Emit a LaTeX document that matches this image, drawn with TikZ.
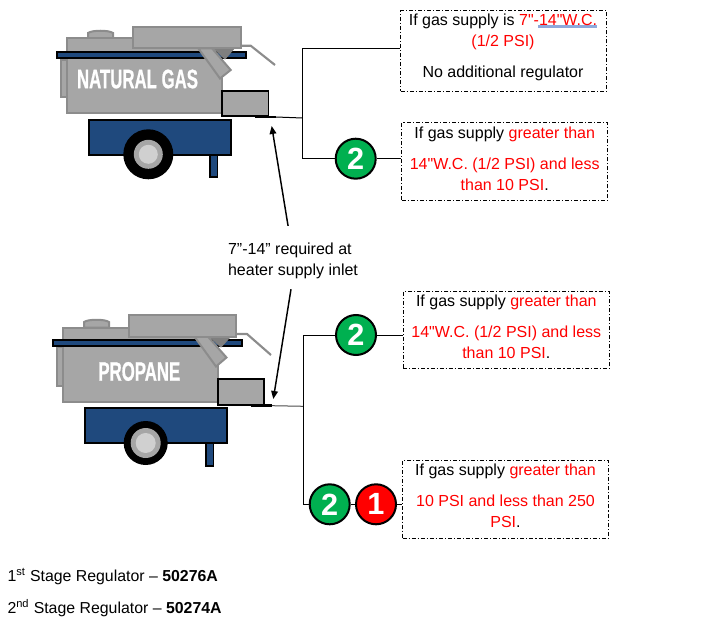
\documentclass[tikz,border=0pt]{standalone}
\usepackage{fontspec}
\setmainfont{Liberation Sans}
\newfontfamily\rawfont{Liberation Sans}
\newfontfamily\fuelfont{Liberation Sans}[BoldFeatures={FakeBold=1}]
\usetikzlibrary{arrows.meta}

\definecolor{bodygray}{RGB}{166,166,166}
\definecolor{edgegray}{RGB}{140,140,140}
\definecolor{chutegray}{RGB}{127,127,127}
\definecolor{hubgray}{RGB}{208,208,208}
\definecolor{trailerblue}{RGB}{31,73,125}
\definecolor{stagegreen}{RGB}{0,176,80}
\definecolor{markblue}{RGB}{142,169,219}

\tikzset{every picture/.style={line width=0.75pt}}
\tikzset{
  tankpart/.style={draw=edgegray,fill=bodygray,line width=1.5pt},
  boxpart/.style={draw=black,fill=bodygray,line width=1.2pt},
  bluepart/.style={draw=black,fill=trailerblue,line width=1.2pt},
  inletbar/.style={fill=black,inner sep=0pt,minimum width=15.5pt,minimum height=2.2pt},
  infobox/.style={draw=black,dash pattern=on 3pt off 1.5pt on 0.8pt off 1.5pt,minimum width=154.5pt,inner sep=0pt},
  infotext/.style={font=\fontsize{12}{15.75}\selectfont,align=center,inner sep=0pt},
  fueltext/.style={font=\fontsize{20}{22}\fuelfont\bfseries,text=white,inner sep=0pt},
  stage/.style={circle,draw=black,line width=1.5pt,minimum size=30pt,inner sep=0pt,text=white,font=\fontsize{23}{25}\selectfont\bfseries},
  stagetwo/.style={stage,fill=stagegreen},
  stageone/.style={stage,fill=red},
  plaintext/.style={font=\fontsize{11.9}{15.75}\selectfont,anchor=west,inner sep=0pt},
}
\newcommand{\redtext}[1]{\textcolor{red}{#1}}
\newcommand{\inchmark}{{\rawfont"}}

\begin{document}
\begin{tikzpicture}[x=0.75pt,y=0.75pt,yscale=-1,xscale=1]
\useasboundingbox (0,0) rectangle (725,617);

% Natural gas heater
\draw [tankpart] (60.7,60) rectangle (66.7,97);
\draw [tankpart] (88,38.3) -- (88,33) .. controls (92,30) and (109,30) .. (113,33) -- (113,38.3) -- cycle;
\draw [tankpart] (66.7,38.3) rectangle (221.7,113.3);
\draw [bluepart] (56.7,52) rectangle (246,58);
\draw [draw=edgegray,line width=1.6pt] (240.7,45.7) -- (250.7,45.7) -- (275,65);
\draw [fill=chutegray,draw=chutegray] (213,47.5) -- (234,48.5) -- (225,59) -- cycle;
\draw [tankpart] (198.3,48.3) -- (212,48.3) -- (230.7,70) -- (220,78.5) -- cycle;
\draw [tankpart] (133.3,26.7) rectangle (240.7,48.3);
\draw [boxpart] (221.7,91) rectangle (268.3,116);
\draw [bluepart] (89,120) rectangle (231,155);
\draw [bluepart] (210,155) rectangle (217.3,177);
\fill [black] (148.3,154.3) circle [radius=25];
\fill [bodygray] (148.3,154.3) circle [radius=14.5];
\fill [hubgray] (148.3,154.3) circle [radius=9.5];
% Text Node
\node [fueltext] (gasname) at (137.5,79) {\scalebox{0.63}[1]{NATURAL GAS}};
\node [inletbar] (gasbar) at (265.3,117) {};

% Propane heater
\draw [tankpart] (56.7,347) rectangle (62.7,386);
\draw [tankpart] (84,327.7) -- (84,322) .. controls (88,319) and (105,319) .. (109,322) -- (109,327.7) -- cycle;
\draw [tankpart] (62.7,327.7) rectangle (217.7,402.3);
\draw [bluepart] (52.7,340) rectangle (242,346);
\draw [draw=edgegray,line width=1.6pt] (236,334) -- (247,334) -- (271,355);
\draw [fill=chutegray,draw=chutegray] (209,336) -- (230,337) -- (221,347) -- cycle;
\draw [tankpart] (194.5,336.7) -- (208,336.7) -- (226.5,357.5) -- (216,366.5) -- cycle;
\draw [tankpart] (129.3,315) rectangle (236,336.7);
\draw [boxpart] (217.7,379) rectangle (264,405);
\draw [bluepart] (85,407.7) rectangle (227,442.7);
\draw [bluepart] (206,442.7) rectangle (213.3,466);
\fill [black] (145.7,443) circle [radius=22];
\fill [bodygray] (145.7,443) circle [radius=15];
\fill [hubgray] (145.7,443) circle [radius=10];
% Text Node
\node [fueltext] (propname) at (139.3,371.5) {\scalebox{0.63}[1]{PROPANE}};
\node [inletbar] (propbar) at (261.2,405.7) {};

% Text Node
\node [infobox,minimum height=60.4pt] (boxa) at (503.7,51) {};
\fill [markblue] (538,25) rectangle (597,28.3);
\node [infotext] (texta) at (503,47) {If gas supply is \redtext{7\inchmark-14\inchmark W.C.}\\\redtext{(1/2 PSI)}\\[7.5pt]No additional regulator};
% Text Node
\node [infobox,minimum height=58pt] (boxb) at (504.7,161.4) {};
\node [infotext] (textb) at (504.7,158.8) {If gas supply \redtext{greater than}\\[7.5pt]\redtext{14\inchmark W.C. (1/2 PSI) and less}\\\redtext{than 10 PSI}.};
% Text Node
\node [infobox,minimum height=58pt] (boxc) at (506.3,330.3) {};
\node [infotext] (textc) at (506.3,327) {If gas supply \redtext{greater than}\\[7.5pt]\redtext{14\inchmark W.C. (1/2 PSI) and less}\\\redtext{than 10 PSI}.};
% Text Node
\node [infobox,minimum height=58pt] (boxd) at (505.5,499.5) {};
\node [infotext] (textd) at (505.5,495.7) {If gas supply \redtext{greater than}\\[7.5pt]\redtext{10 PSI and less than 250}\\\redtext{PSI}.};

% Text Node
\node [stagetwo] (twoa) at (355.7,158.7) {2};
\node [stagetwo] (twob) at (356,335) {2};
\node [stagetwo] (twoc) at (329.7,504.3) {2};
\node [stageone] (onec) at (376,504.3) {1};

% Text Node
\node [font=\fontsize{12}{15.75}\selectfont,align=left,inner xsep=0pt,inner ysep=9.5pt] (note) at (293,261) {7”-14” required at\\heater supply inlet};
\node [plaintext] (firststage) at (7,576.7) {1\textsuperscript{st} Stage Regulator – \textbf{50276A}};
\node [plaintext] (secondstage) at (7,608.3) {2\textsuperscript{nd} Stage Regulator – \textbf{50274A}};

\coordinate (gasjoin) at (302.5,118);
\coordinate (propjoin) at (303.5,406.3);
\coordinate (gastip) at (271.7,126);
\coordinate (proptip) at (273.3,399);

% Connection
\draw (gasbar.east) -- (gasjoin);
\draw (gasjoin) |- ([yshift=-2pt]boxa.west);
\draw (gasjoin) |- (twoa.west);
\draw (twoa.east) -- (boxb.west |- twoa.east);
% Connection
\draw [draw=black!70] (propbar.east) -- (propjoin);
\draw (propjoin) |- (twob.west);
\draw (propjoin) |- (twoc.west);
\draw (twob.east) -- (boxc.west |- twob.east);
\draw (twoc.east) -- (onec.west);
\draw (onec.east) -- (boxd.west |- onec.east);
% Connection
\draw [line width=1.1pt,-{Triangle[length=6pt,width=5pt]}] ([xshift=-3.7pt,yshift=-3pt]note.north) -- (gastip);
\draw [line width=1.1pt,-{Triangle[length=6pt,width=5pt]}] ([xshift=-1.5pt,yshift=-2.2pt]note.south) -- (proptip);

\end{tikzpicture}
\end{document}
